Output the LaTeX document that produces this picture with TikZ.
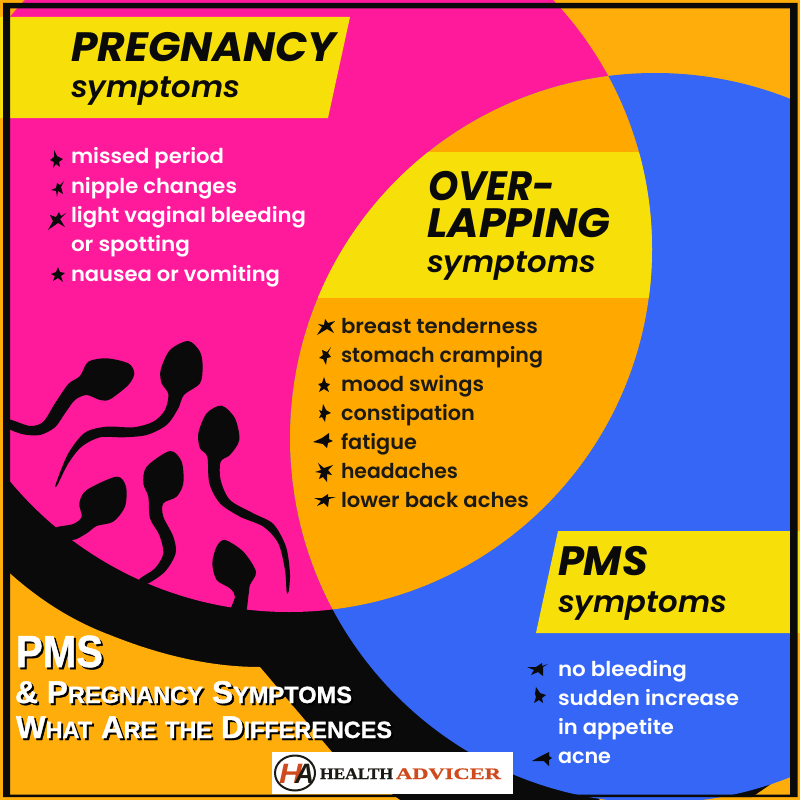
\documentclass[tikz,border=0pt]{standalone}
\usepackage{fontspec}
\usepackage{graphicx}
\setmainfont{Poppins}
\newfontfamily\semifont{Poppins SemiBold}
\newfontfamily\titlefont[BoldFeatures={FakeBold=1.2}]{Liberation Sans}
\newfontfamily\logofont[BoldFeatures={FakeBold=0.8}]{Liberation Serif}
\definecolor{cpink}{HTML}{FF1A9C}
\definecolor{cblue}{HTML}{3566F5}
\definecolor{corange}{HTML}{FFAD0A}
\definecolor{clens}{HTML}{FFA800}
\definecolor{cyell}{HTML}{F7E00A}
\definecolor{cblack}{HTML}{0A0A0A}
\definecolor{cink}{HTML}{1C1A14}
\definecolor{clogored}{HTML}{CF4A1C}
\newcommand\fit[2]{\resizebox{#1pt}{\height}{#2}}
\newcommand\headfont{\fontsize{41}{41}\selectfont\bfseries\itshape}
\newcommand\subfont{\semifont\fontsize{30}{30}\selectfont\itshape}
\newcommand\listfont{\semifont\fontsize{20.5}{20.5}\selectfont}
\newcommand\capA{\titlefont\bfseries\fontsize{31.5}{31.5}\selectfont}
\newcommand\capB{\titlefont\bfseries\fontsize{23.5}{23.5}\selectfont}
\newcommand\wordgap{\hspace{9pt}}
\newcommand\lineone{\titlefont\bfseries\fontsize{45}{45}\selectfont PMS}
\newcommand\linetwo{{\capA\&}\wordgap{\capA P}{\capB REGNANCY}\wordgap{\capA S}{\capB YMPTOMS}}
\newcommand\linethree{{\capA W}{\capB HAT}\wordgap{\capA A}{\capB RE}\wordgap{\capB THE}\wordgap{\capA D}{\capB IFFERENCES}}
\tikzset{
  lbl/.style={inner sep=0pt,outer sep=0pt,anchor=base west},
  onpink/.style={lbl,text=white},
  onorange/.style={lbl,text=cink},
  onyellow/.style={lbl,text=cblack},
  tshadow/.style={lbl,text=black},
  tmain/.style={lbl,text=white},
  bulletmark/.style={fill=cblack},
}
\begin{document}
\begin{tikzpicture}[x=1pt,y=-1pt]
\useasboundingbox (0,0) rectangle (800,800);
% background
\fill[corange] (0,0) rectangle (800,800);
% black band under the circles
\fill[cblack] (10,460) -- (335,560) -- (600,800) -- (10,800) -- cycle;
\fill[cblack] (790,771) -- (752,797) -- (700,797) -- cycle;
% lower left orange corner
\fill[corange] (3,567) .. controls (35,597) and (70,620) .. (110,635)
  .. controls (160,655) and (210,667) .. (260,667) -- (332,752) -- (400,800) -- (3,800) -- cycle;
% pink circle
\begin{scope}
  \clip (3,0) rectangle (800,800);
  \fill[cpink] (289,249) circle[radius=363];
\end{scope}
% blue circle
\begin{scope}
  \clip (0,0) rectangle (797,800);
  \fill[cblue] (655,438) circle[radius=365];
\end{scope}
% lens
\begin{scope}
  \clip (655,438) circle[radius=365];
  \fill[clens] (289,249) circle[radius=363];
  \clip (289,249) circle[radius=363];
  \fill[cyell] (200,152) rectangle (700,298);
\end{scope}
% header bands
\fill[cyell] (0,17) -- (350,17) -- (328,118) -- (0,118) -- cycle;
\fill[cyell] (558,531) -- (800,531) -- (800,633) -- (536,633) -- cycle;
% sperm
\begin{scope}[shift={(0,320)},x=.3333pt,y=-.3333pt]
\fill[cblack] plot[smooth cycle,tension=.5] coordinates {(25,298)(90,318)(130,305)(165,250)(205,192)(240,168)(265,125)(320,115)(385,130)(403,160)(385,195)(330,238)(300,240)(260,225)(225,240)(195,280)(165,322)(120,345)(70,343)(25,325)};
\fill[cblack] plot[smooth cycle,tension=.5] coordinates {(565,63)(600,95)(608,140)(600,190)(552,225)(535,265)(500,315)(440,345)(370,352)(300,352)(245,380)(205,430)(171,497)(168,490)(205,400)(255,338)(320,320)(400,322)(460,305)(495,270)(505,222)(485,190)(482,150)(510,90)};
\fill[cblack] plot[smooth cycle,tension=.5] coordinates {(665,257)(705,295)(718,360)(690,405)(662,425)(662,480)(690,540)(760,580)(820,612)(858,680)(870,760)(866,815)(860,815)(855,750)(835,670)(790,620)(720,590)(660,550)(628,490)(622,410)(600,385)(595,340)(620,280)};
\fill[cblack] plot[smooth cycle,tension=.5] coordinates {(510,393)(545,425)(550,490)(530,530)(490,550)(490,590)(520,650)(527,700)(495,755)(440,792)(418,778)(465,745)(490,700)(478,645)(450,595)(445,530)(430,490)(440,440)};
\fill[cblack] plot[smooth cycle,tension=.5] coordinates {(350,470)(378,500)(375,560)(340,605)(290,618)(260,640)(215,660)(165,625)(220,612)(245,590)(238,550)(260,510)};
\fill[cblack] plot[smooth cycle,tension=.5] coordinates {(675,660)(730,695)(768,755)(750,795)(745,830)(735,880)(690,880)(705,830)(690,805)(650,780)(637,730)(650,680)};
\end{scope}
% headings
\node[onyellow] (hpreg) at (71,62) {\fit{265}{\headfont PREGNANCY}};
\node[onyellow] (spreg) at (71,97) {\fit{169}{\subfont symptoms}};
\node[onyellow] (hover) at (428,200) {\fit{127}{\headfont OVER-}};
\node[onyellow] (hlap) at (427,237) {\fit{183}{\headfont LAPPING}};
\node[onyellow] (sover) at (427,272) {\fit{169}{\subfont symptoms}};
\node[onyellow] (hpms) at (558,575) {\fit{90}{\headfont PMS}};
\node[onyellow] (spms) at (558,612) {\fit{169}{\subfont symptoms}};
% pregnancy list
\node[onpink] (p1) at (71,163) {\fit{153}{\listfont missed period}};
\node[onpink] (p2) at (71,193) {\fit{166}{\listfont nipple changes}};
\node[onpink] (p3) at (71,222) {\fit{235}{\listfont light vaginal bleeding}};
\node[onpink] (p4) at (71,251) {\fit{119}{\listfont or spotting}};
\node[onpink] (p5) at (71,281) {\fit{209}{\listfont nausea or vomiting}};
% overlap list
\node[onorange] (o1) at (341,333) {\fit{197}{\listfont breast tenderness}};
\node[onorange] (o2) at (341,362) {\fit{202}{\listfont stomach cramping}};
\node[onorange] (o3) at (341,391) {\fit{143}{\listfont mood swings}};
\node[onorange] (o4) at (341,420) {\fit{134}{\listfont constipation}};
\node[onorange] (o5) at (341,449) {\fit{76}{\listfont fatigue}};
\node[onorange] (o6) at (341,478) {\fit{117}{\listfont headaches}};
\node[onorange] (o7) at (341,507) {\fit{188}{\listfont lower back aches}};
% PMS list
\node[onpink] (m1) at (558,676) {\fit{129}{\listfont no bleeding}};
\node[onpink] (m2) at (558,705) {\fit{181}{\listfont sudden increase}};
\node[onpink] (m3) at (558,734) {\fit{116}{\listfont in appetite}};
\node[onpink] (m4) at (558,763) {\fit{53}{\listfont acne}};
% bullets
\fill[bulletmark,shift={(57,159)}] (-3,-9)--(0,-3)--(6,0)--(2,3)--(3,8)--(-1,5)--(-4,9)--(-3,3)--(-7,1)--(-3,-2)--cycle;
\fill[bulletmark,shift={(58,189)}] (6,-8)--(3,-2)--(5,5)--(0,2)--(-1,8)--(-2,2)--(-7,1)--(-2,-1)--(-1,-6)--(2,-4)--cycle;
\fill[bulletmark,shift={(57,220)}] (9,-7)--(3,-1)--(8,7)--(1,3)--(-9,10)--(-4,1)--(-7,-5)--(-1,-3)--(2,-8)--(4,-4)--cycle;
\fill[bulletmark,shift={(58,274)}] (0,-7)--(2,-2)--(7,-1)--(3,2)--(5,8)--(0,4)--(-5,7)--(-3,2)--(-7,0)--(-2,-2)--cycle;
\fill[bulletmark,shift={(326,327)}] (9,-6)--(4,-1)--(8,6)--(1,2)--(-9,8)--(-4,0)--(-8,-3)--(-2,-2)--(-1,-8)--(2,-4)--cycle;
\fill[bulletmark,shift={(325,356)}] (6,-9)--(3,-3)--(6,1)--(2,2)--(1,9)--(-2,3)--(-6,2)--(-2,-1)--(-3,-6)--(2,-4)--cycle;
\fill[bulletmark,shift={(324,385)}] (0,-8)--(2,-2)--(6,-1)--(3,2)--(5,7)--(0,4)--(-5,7)--(-3,2)--(-6,-1)--(-2,-2)--cycle;
\fill[bulletmark,shift={(324,413)}] (-1,-9)--(2,-3)--(7,0)--(2,2)--(1,9)--(-2,4)--(-5,5)--(-3,1)--(-5,-3)--(-2,-2)--cycle;
\fill[bulletmark,shift={(326,441)}] (-13,1)--(-4,-3)--(3,-8)--(3,-2)--(7,0)--(2,2)--(1,7)--(-3,3)--cycle;
\fill[bulletmark,shift={(324,472)}] (9,-7)--(4,-2)--(8,3)--(3,2)--(3,10)--(-1,5)--(-5,7)--(-3,1)--(-9,0)--(-3,-2)--(-6,-9)--(0,-4)--cycle;
\fill[bulletmark,shift={(325,501)}] (11,-4)--(4,-2)--(3,6)--(-1,2)--(-8,5)--(-4,0)--(-11,-3)--(-3,-3)--(3,-7)--(3,-4)--cycle;
\fill[bulletmark,shift={(538,669)}] (10,-5)--(5,-2)--(5,7)--(0,3)--(-7,6)--(-4,1)--(-11,-2)--(-2,-2)--(4,-6)--(4,-3)--cycle;
\fill[bulletmark,shift={(539,696)}] (-3,-9)--(1,-3)--(7,-1)--(3,2)--(4,7)--(0,4)--(-5,7)--(-3,1)--(-4,-2)--cycle;
\fill[bulletmark,shift={(545,758)}] (-13,3)--(-4,-2)--(4,-6)--(4,-2)--(7,0)--(4,2)--(4,8)--(-1,3)--cycle;
% frame
\fill[cblack,even odd rule] (3,3) rectangle (797.5,797) (10,8.5) rectangle (790,794.5);
% title
\node[tshadow] (t1s) at (18,669) {\fit{87}{\lineone}};
\node[tmain] (t1) at (16,667) {\fit{87}{\lineone}};
\node[tshadow] (t2s) at (17,705) {\fit{337}{\linetwo}};
\node[tmain] (t2) at (15,703) {\fit{337}{\linetwo}};
\node[tshadow] (t3s) at (18,740) {\fit{376}{\linethree}};
\node[tmain] (t3) at (16,738) {\fit{376}{\linethree}};
% logo
\fill[white] (272,752) rectangle (513,794);
\draw[cink,line width=2] (295,773) ellipse[x radius=20,y radius=17.5];
\node[lbl,text=clogored] (lh) at (279,783) {\fit{23}{\titlefont\bfseries\itshape\fontsize{28}{28}\selectfont H}};
\node[lbl,text=cink] (la) at (295,783) {\fit{19}{\titlefont\bfseries\itshape\fontsize{28}{28}\selectfont A}};
\node[lbl,text=cink] (lhealth) at (320,779) {\fit{73}{\logofont\bfseries\fontsize{16}{16}\selectfont HEALTH}};
\node[lbl,text=clogored] (ladv) at (396,779) {\fit{105}{\logofont\bfseries\fontsize{16}{16}\selectfont ADVICER}};
\end{tikzpicture}
\end{document}
